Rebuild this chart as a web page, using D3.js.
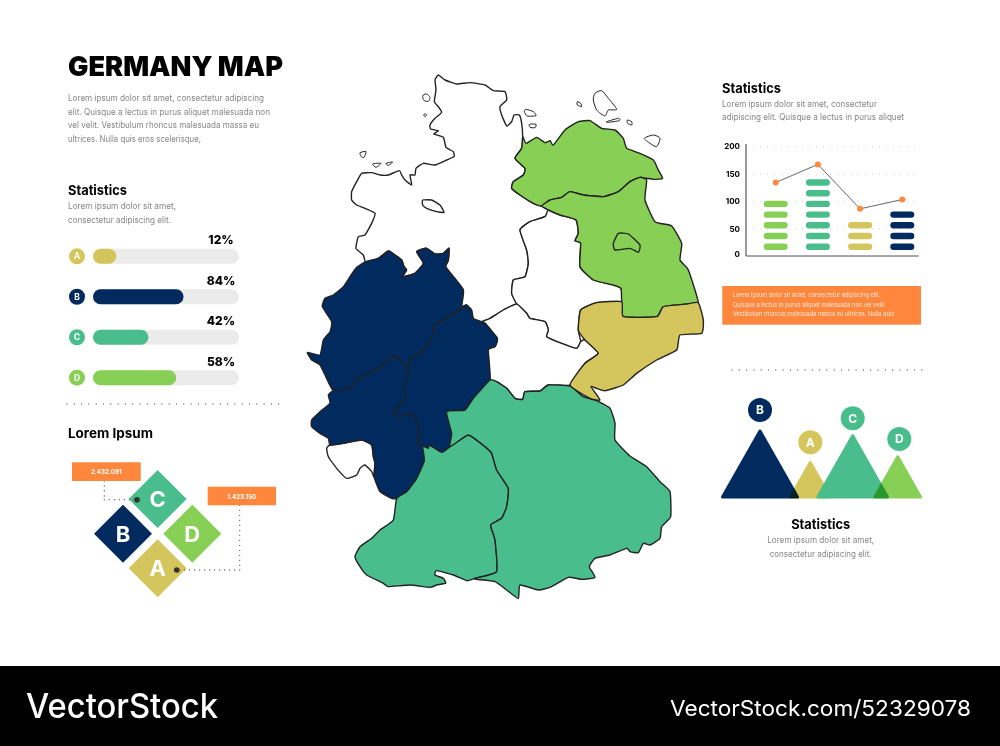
<!DOCTYPE html>
<html>
<head>
<meta charset="utf-8">
<script src="https://cdnjs.cloudflare.com/ajax/libs/d3/7.8.5/d3.min.js"></script>
<style>
    html, body { margin: 0; padding: 0; background: #fff; }
    svg { display: block; }
    text { font-family: Inter, "Open Sans", sans-serif; }
</style>
</head>
<body>
<script>
// colours
var navy = "#012a5e", yellow = "#d4c65c", teal = "#4abd8c", green = "#88cf55", orange = "#ff873d";

// text
var titleText = "GERMANY MAP";
var introLines = ["Lorem ipsum dolor sit amet, consectetur adipiscing",
    "elit. Quisque a lectus in purus aliquet malesuada non",
    "vel velit. Vestibulum rhoncus malesuada massa eu",
    "ultrices. Nulla quis eros scelerisque,"];
var shortLines = ["Lorem ipsum dolor sit amet,", "consectetur adipiscing elit."];
var rightLines = ["Lorem ipsum dolor sit amet, consectetur", "adipiscing elit. Quisque a lectus in purus aliquet"];
var boxLines = ["Lorem ipsum dolor sit amet, consectetur adipiscing elit.",
    "Quisque a lectus in purus aliquet malesuada non vel velit.",
    "Vestibulum rhoncus malesuada massa eu ultrices. Nulla quis"];

// progress bars
var barLetters = ["A", "B", "C", "D"];
var barLabels = ["12%", "84%", "42%", "58%"];
var barLevels = [16, 62, 38, 57];   // drawn length
var barColors = [yellow, navy, teal, green];

// diamonds
var diamondLetters = ["C", "B", "D", "A"];
var diamondColors = [teal, navy, green, yellow];
var calloutLabels = ["2.432.091", "1.423.150"];

// top right chart
var chartTicks = [0, 50, 100, 150, 200];
var chartCats = ["A", "B", "C", "D"];
var pillCounts = [5, 7, 3, 4];
var pillColors = [green, teal, yellow, navy];
var lineValues = [134, 167, 86, 103];

// triangles
var triLetters = ["A", "C", "B", "D"];
var triHeights = [36, 64, 69, 42];
var triColors = [yellow, teal, navy, green];
var triBadges = [yellow, teal, navy, teal];

// map outlines in map units
var northWhite = [[415,45],[435,60],[470,72],[510,68],[555,75],[580,92],[615,95],[620,120],[600,140],[605,165],[620,198],[635,185],[642,165],[658,165],[665,190],[668,230],[665,265],[645,295],[675,325],[670,345],[640,365],[635,385],[660,405],[700,430],[725,438],[745,450],[735,470],[690,485],[660,510],[680,570],[685,610],[675,650],[640,660],[635,700],[650,732],[610,750],[570,775],[545,790],[520,780],[515,755],[500,735],[480,740],[490,690],[460,650],[437,620],[445,600],[447,565],[430,580],[405,582],[380,565],[350,575],[370,610],[345,640],[308,650],[320,630],[312,620],[305,600],[285,585],[265,573],[235,595],[197,605],[190,585],[168,565],[175,530],[195,525],[215,490],[225,460],[195,445],[170,435],[155,420],[155,395],[170,365],[185,340],[215,338],[240,345],[265,345],[298,332],[305,345],[315,360],[335,375],[330,345],[345,345],[348,325],[370,310],[405,315],[440,300],[462,290],[460,275],[438,262],[430,232],[402,222],[415,212],[392,207],[390,195],[405,175],[425,157],[415,140],[403,125],[408,90],[405,60]];
var hamburgHole = [[368,420],[395,420],[420,435],[432,457],[410,455],[380,445],[368,435]];
var sachsenAnhalt = [[745,450],[735,470],[690,485],[660,510],[680,570],[685,610],[675,650],[640,660],[635,700],[650,732],[680,760],[690,775],[735,785],[745,810],[740,830],[785,850],[830,865],[842,845],[835,810],[842,750],[890,728],[965,725],[963,685],[940,675],[880,660],[840,620],[842,550],[825,542],[835,520],[828,480],[780,465]];
var thuringia = [[650,732],[680,760],[690,775],[735,785],[745,810],[740,830],[785,850],[830,865],[842,845],[855,840],[895,880],[855,910],[810,975],[745,975],[720,993],[675,995],[668,1018],[645,1015],[620,985],[590,965],[570,960],[565,870],[585,860],[592,835],[555,790],[545,785],[570,775],[610,750]];
var saarland = [[90,1155],[80,1165],[85,1190],[110,1225],[140,1255],[170,1245],[180,1225],[195,1215],[215,1235],[222,1250],[225,1210],[220,1190],[215,1155],[185,1140],[130,1150]];
var nrw = [[197,605],[235,595],[265,573],[285,585],[305,600],[312,620],[320,630],[308,650],[345,640],[370,610],[350,575],[380,565],[405,582],[430,580],[447,565],[445,600],[437,620],[460,650],[490,690],[487,725],[480,748],[400,800],[400,820],[385,850],[360,880],[330,900],[325,930],[290,890],[275,890],[235,925],[175,955],[150,985],[100,992],[75,945],[60,915],[35,900],[22,877],[60,885],[70,840],[90,815],[95,785],[67,740],[75,715],[100,705],[130,680],[150,650],[170,622]];
var hesse = [[480,748],[498,735],[515,750],[520,775],[545,785],[555,790],[592,835],[585,860],[565,870],[570,960],[520,1015],[495,1050],[440,1055],[455,1120],[450,1160],[425,1177],[388,1155],[385,1165],[365,1160],[352,1150],[360,1120],[350,1085],[335,1060],[290,1070],[285,1050],[318,1010],[310,980],[325,930],[330,900],[360,880],[385,850],[400,820],[400,800]];
var rhineland = [[100,992],[150,985],[175,955],[235,925],[275,890],[290,890],[325,930],[310,980],[318,1010],[285,1050],[290,1070],[335,1060],[350,1085],[360,1120],[352,1150],[368,1160],[373,1202],[350,1255],[320,1295],[290,1315],[275,1315],[240,1295],[222,1250],[225,1210],[220,1190],[215,1155],[185,1140],[130,1150],[90,1155],[85,1135],[60,1120],[35,1100],[35,1080],[60,1055],[90,1030],[85,1005]];
var baden = [[290,1315],[280,1380],[240,1410],[215,1435],[180,1460],[165,1490],[180,1520],[200,1545],[250,1570],[265,1580],[330,1575],[390,1582],[410,1575],[437,1570],[430,1555],[405,1545],[410,1532],[460,1545],[500,1562],[525,1555],[590,1535],[585,1440],[572,1395],[605,1375],[620,1340],[625,1285],[590,1230],[575,1180],[555,1160],[505,1125],[450,1160],[425,1177],[388,1155],[385,1165],[368,1160],[373,1202],[350,1255],[320,1295]];
var bavaria = [[450,1160],[455,1120],[440,1055],[495,1050],[520,1015],[570,960],[590,965],[620,985],[645,1015],[668,1018],[675,995],[720,993],[745,975],[810,978],[850,1010],[890,1022],[930,1045],[945,1090],[945,1140],[990,1188],[1040,1220],[1080,1265],[1110,1295],[1112,1370],[1085,1400],[1080,1435],[1050,1455],[1030,1450],[1015,1478],[990,1475],[980,1465],[930,1485],[885,1495],[868,1520],[885,1552],[845,1558],[805,1552],[755,1580],[715,1590],[660,1575],[655,1615],[620,1590],[585,1565],[530,1558],[525,1555],[590,1535],[585,1440],[572,1395],[605,1375],[620,1340],[625,1285],[590,1230],[575,1180],[555,1160],[505,1125]];
var mecklenburg = [[668,230],[678,250],[710,232],[735,248],[750,242],[760,255],[795,210],[835,185],[870,182],[905,205],[945,210],[970,235],[980,265],[1020,280],[1060,300],[1075,330],[1088,355],[1060,358],[1020,352],[990,365],[955,395],[910,410],[850,405],[810,395],[785,412],[750,420],[725,438],[700,430],[660,405],[635,385],[640,365],[670,345],[675,325],[645,295],[665,265]];
var brandenburg = [[1040,360],[1035,420],[1065,485],[1115,498],[1145,550],[1140,600],[1165,630],[1195,728],[1160,732],[1090,740],[1070,770],[970,770],[965,725],[963,685],[940,675],[880,660],[840,620],[842,550],[825,542],[835,520],[828,480],[780,465],[745,450],[725,438],[750,420],[785,412],[810,395],[850,405],[910,410],[955,395],[990,365],[1020,352]];
var berlin = [[955,520],[985,522],[1020,555],[1015,577],[990,565],[945,570],[940,550]];
var saxony = [[1195,728],[1210,780],[1205,820],[1140,825],[1130,870],[1070,900],[1010,940],[970,975],[915,992],[890,985],[873,980],[900,1020],[870,1015],[810,975],[855,910],[895,880],[855,840],[835,810],[842,750],[890,728],[965,725],[970,770],[1070,770],[1090,740],[1160,732]];
var islands = [
    [[370,105],[380,102],[390,112],[385,124],[373,122],[368,113]],
    [[371,165],[375,161],[380,165],[375,170]],
    [[180,278],[198,275],[192,292],[184,290]],
    [[218,312],[243,310],[228,322]],
    [[258,310],[278,306],[265,316]],
    [[678,148],[700,155],[708,167],[682,168],[673,155]],
    [[688,193],[708,193],[705,203],[690,202]],
    [[885,100],[905,92],[925,115],[950,148],[925,150],[915,168],[890,150],[880,120]],
    [[832,125],[842,130],[845,140],[832,135]],
    [[920,185],[955,175],[958,182],[925,187]],
    [[982,180],[995,185],[995,195],[983,190]],
    [[1033,235],[1060,225],[1080,235],[1070,260],[1050,250]]
];

var svg = d3.select("body").append("svg").attr("width", 1000).attr("height", 746);

// writes one line of text squeezed to the width measured on the picture
function label(str, x, y, width, size, color, weight, anchor) {
    var t = svg.append("text").attr("x", x).attr("y", y).attr("font-size", size)
        .attr("fill", color).attr("font-weight", weight || 400).attr("text-anchor", anchor || "start").text(str);
    if (width) t.attr("textLength", width).attr("lengthAdjust", "spacingAndGlyphs");
    return t;
}
var gray = "#858585";

// ---- map ----
var mapX = d3.scaleLinear().domain([0, 1200]).range([300, 700]);
var mapY = d3.scaleLinear().domain([0, 1650]).range([60, 610]);
var outline = d3.line().x(function(d) { return mapX(d[0]); }).y(function(d) { return mapY(d[1]); })
    .curve(d3.curveCardinalClosed.tension(0.55));
var islandOutline = d3.line().x(function(d) { return mapX(d[0]); }).y(function(d) { return mapY(d[1]); })
    .curve(d3.curveCardinalClosed.tension(0.3));

var regions = [
    [northWhite, "#fff"], [hamburgHole, "#fff"], [sachsenAnhalt, "#fff"], [thuringia, "#fff"], [saarland, "#fff"],
    [nrw, navy], [hesse, navy], [rhineland, navy],
    [baden, teal], [bavaria, teal],
    [mecklenburg, green], [brandenburg, green], [berlin, green], [saxony, yellow]
];
svg.append("g").selectAll("path").data(regions).enter().append("path")
    .attr("d", function(d) { return outline(d[0]); })
    .attr("fill", function(d) { return d[1]; })
    .attr("stroke", "#222").attr("stroke-width", 1.4).attr("stroke-linejoin", "round");
svg.append("g").selectAll("path").data(islands).enter().append("path")
    .attr("d", islandOutline).attr("fill", "#fff").attr("stroke", "#222").attr("stroke-width", 1);

// ---- left column ----
label(titleText, 68, 76, 215, 27.5, "#000", 900);
var introWidths = [196, 202, 191, 133];
introLines.forEach(function(s, i) { label(s, 68, 101 + i * 13.6, introWidths[i], 8.6, gray); });

label("Statistics", 68, 195, 59, 13, "#000", 700);
label(shortLines[0], 68, 209, 108, 8.6, gray);
label(shortLines[1], 68, 223, 103, 8.6, gray);

var barX = d3.scaleLinear().domain([0, 100]).range([93, 239]);
var barY = d3.scalePoint().domain(barLetters).range([256.3, 377.7]);
var bars = svg.append("g").selectAll("g").data(barLetters).enter().append("g")
    .attr("transform", function(d) { return "translate(0," + barY(d) + ")"; });
bars.append("rect").attr("x", barX(0)).attr("y", -7.5).attr("height", 15).attr("rx", 7.5)
    .attr("width", barX(100) - barX(0)).attr("fill", "#ebebeb");
bars.append("rect").attr("x", barX(0)).attr("y", -7.5).attr("height", 15).attr("rx", 7.5)
    .attr("width", function(d, i) { return barX(barLevels[i]) - barX(0); })
    .attr("fill", function(d, i) { return barColors[i]; });
bars.append("circle").attr("cx", 77).attr("r", 8).attr("fill", function(d, i) { return barColors[i]; });
bars.append("text").attr("x", 77).attr("y", 3).attr("text-anchor", "middle").attr("font-size", 8.5)
    .attr("font-weight", 700).attr("fill", "#fff").text(function(d) { return d; });
bars.append("text").attr("x", 221).attr("y", -12).attr("text-anchor", "middle").attr("font-size", 12)
    .attr("font-weight", 800).attr("fill", "#000").text(function(d, i) { return barLabels[i]; });

function dotted(x1, y1, x2, y2, color, gap) {
    svg.append("line").attr("x1", x1).attr("y1", y1).attr("x2", x2).attr("y2", y2)
        .attr("stroke", color).attr("stroke-width", 1.3).attr("stroke-linecap", "round")
        .attr("stroke-dasharray", "0 " + gap);
}
dotted(67, 404, 279, 404, "#666", 7.3);

label("Lorem Ipsum", 68, 437.5, 85, 13, "#000", 700);

// diamonds, on a small grid of columns and rows
var diaX = d3.scalePoint().domain(["B", "C", "D"]).range([123, 192.3]);
var diaY = d3.scalePoint().domain(["C", "B", "A"]).range([499, 568.3]);
var diaCol = { C: "C", B: "B", D: "D", A: "C" }, diaRow = { C: "C", B: "B", D: "B", A: "A" };
var diamond = d3.symbol().type(d3.symbolSquare).size(2 * 29 * 29);
var dia = svg.append("g").selectAll("g").data(diamondLetters).enter().append("g")
    .attr("transform", function(d) { return "translate(" + diaX(diaCol[d]) + "," + diaY(diaRow[d]) + ")"; });
dia.append("path").attr("d", diamond()).attr("transform", "rotate(45)")
    .attr("fill", function(d, i) { return diamondColors[i]; });
dia.append("text").attr("y", 8).attr("text-anchor", "middle").attr("font-size", 22)
    .attr("font-weight", 700).attr("fill", "#fff").text(function(d) { return d; });

dotted(104.3, 481, 104.3, 499.7, "#555", 5);
dotted(104.3, 499.7, 137, 499.7, "#555", 5);
dotted(239.7, 505.3, 239.7, 570, "#555", 5);
dotted(239.7, 570, 176.7, 570, "#555", 5);
svg.append("circle").attr("cx", 137).attr("cy", 499.7).attr("r", 2.8).attr("fill", "#333");
svg.append("circle").attr("cx", 176.7).attr("cy", 570).attr("r", 2.8).attr("fill", "#333");

svg.append("rect").attr("x", 72).attr("y", 462.3).attr("width", 68.7).attr("height", 18.7).attr("fill", orange);
svg.append("rect").attr("x", 207.7).attr("y", 486.7).attr("width", 68.3).attr("height", 18.6).attr("fill", orange);
label(calloutLabels[0], 106.3, 474.2, 0, 6.2, "#fff", 700, "middle");
label(calloutLabels[1], 241.8, 498.5, 0, 6.2, "#fff", 700, "middle");

// ---- top right chart ----
label("Statistics", 722, 93, 59, 13, "#000", 700);
label(rightLines[0], 722, 106.5, 155, 8.6, gray);
label(rightLines[1], 722, 120, 182, 8.6, gray);

var chartY = d3.scaleLinear().domain([0, 200]).range([256, 146.3]);
var chartX = d3.scalePoint().domain(chartCats).range([775.7, 902.3]);
var axisY = d3.axisLeft(chartY).tickValues(chartTicks).tickSizeInner(-172).tickSizeOuter(0).tickPadding(6);
var gAxis = svg.append("g").attr("transform", "translate(746,0)").call(axisY);
gAxis.select(".domain").remove();
gAxis.selectAll("line").attr("stroke", "#ccc").attr("stroke-dasharray", "1 6");
gAxis.selectAll("text").attr("font-size", 8).attr("font-weight", 700).attr("fill", "#000")
    .style("font-family", "Inter, sans-serif");
gAxis.selectAll(".tick").filter(function(d) { return d === 0; }).select("text").attr("dy", "0");
gAxis.selectAll(".tick").filter(function(d) { return d === 0; }).select("line").remove();

svg.append("line").attr("x1", 746).attr("x2", 746).attr("y1", 144).attr("y2", chartY(0)).attr("stroke", "#555").attr("stroke-width", 1.2);
svg.append("line").attr("x1", 746).attr("x2", 918.7).attr("y1", chartY(0)).attr("y2", chartY(0)).attr("stroke", "#555").attr("stroke-width", 1.2);

var pillRow = d3.scaleLinear().domain([0, 1]).range([246.7, 236]);
chartCats.forEach(function(c, i) {
    svg.append("g").selectAll("rect").data(d3.range(pillCounts[i])).enter().append("rect")
        .attr("x", chartX(c) - 12).attr("width", 24).attr("height", 6.4).attr("rx", 3.2)
        .attr("y", function(r) { return pillRow(r) - 3.2; }).attr("fill", pillColors[i]);
});

var trend = d3.line().x(function(d, i) { return chartX(chartCats[i]); }).y(function(d) { return chartY(d); });
svg.append("path").attr("d", trend(lineValues)).attr("fill", "none").attr("stroke", "#555").attr("stroke-width", 0.9);
svg.append("g").selectAll("circle").data(lineValues).enter().append("circle")
    .attr("cx", function(d, i) { return chartX(chartCats[i]); }).attr("cy", function(d) { return chartY(d); })
    .attr("r", 3).attr("fill", orange);

svg.append("rect").attr("x", 722.3).attr("y", 286).attr("width", 198.7).attr("height", 38.7).attr("fill", orange);
var boxWidths = [147.3, 153, 161.6];
boxLines.forEach(function(s, i) {
    label(s, 732.7, 297.3 + i * 9.5, boxWidths[i], 6.2, "#fff").attr("opacity", 0.8);
});

dotted(732, 370, 922, 370, "#666", 7.3);

// ---- triangles ----
var triBase = 497;
var triY = d3.scaleLinear().domain([0, 69]).range([triBase, triBase - 66]);
var triX = d3.scaleOrdinal().domain(triLetters).range([810.3, 852.7, 760, 897.7]);
var triHalf = d3.scaleLinear().domain([0, 69]).range([0, 37.5]);
var triShape = d3.line();
svg.append("g").selectAll("path").data(triLetters).enter().append("path")
    .attr("d", function(d, i) {
        var x = triX(d), h = triHalf(triHeights[i]);
        return triShape([[x - h, triBase], [x, triY(triHeights[i])], [x + h, triBase]]) + "Z";
    })
    .attr("fill", function(d, i) { return triColors[i]; })
    .attr("stroke", function(d, i) { return triColors[i]; })
    .attr("stroke-width", 3).attr("stroke-linejoin", "round")
    .style("mix-blend-mode", function(d) { return d === "B" || d === "D" ? "multiply" : "normal"; });

var badgeX = { A: 810.3, C: 852.7, B: 760, D: 899.3 }, badgeY = { A: 442.3, C: 418.3, B: 410, D: 439 };
var badges = svg.append("g").selectAll("g").data(triLetters).enter().append("g")
    .attr("transform", function(d) { return "translate(" + badgeX[d] + "," + badgeY[d] + ")"; });
badges.append("circle").attr("r", 12).attr("fill", function(d, i) { return triBadges[i]; });
badges.append("text").attr("y", 4.2).attr("text-anchor", "middle").attr("font-size", 12)
    .attr("font-weight", 700).attr("fill", "#fff").text(function(d) { return d; });

label("Statistics", 820.7, 528.5, 59, 13, "#000", 700, "middle");
label(shortLines[0], 820.7, 543, 107, 8.6, gray, 400, "middle");
label(shortLines[1], 820.7, 556.5, 102, 8.6, gray, 400, "middle");

// ---- footer ----
svg.append("rect").attr("x", 0).attr("y", 666).attr("width", 1000).attr("height", 80).attr("fill", "#000");
label("VectorStock", 26, 717.5, 192, 34, "#fff", 500);
label("VectorStock.com/52329078", 670, 716, 301, 22, "#fff", 400);
</script>
</body>
</html>
